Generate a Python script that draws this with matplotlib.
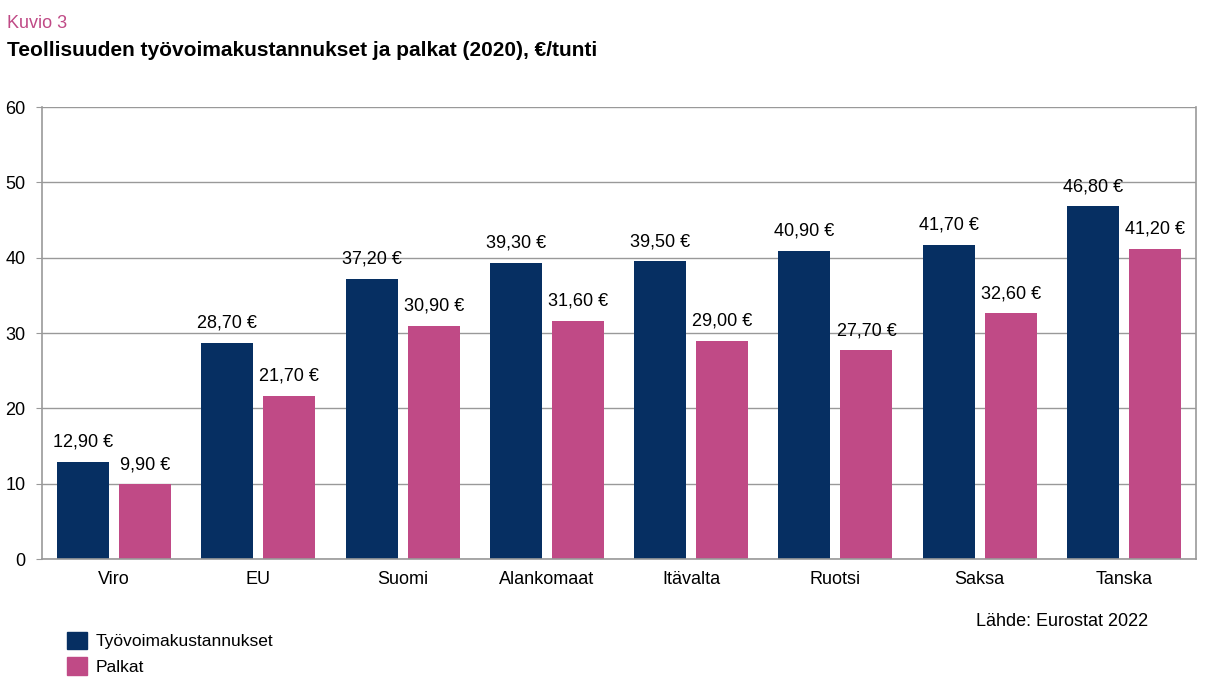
import numpy as np
import matplotlib.pyplot as plt
from matplotlib.patches import Patch

plt.rcParams['font.family'] = ['Liberation Sans', 'DejaVu Sans']

maat = ['Viro', 'EU', 'Suomi', 'Alankomaat', 'Itävalta', 'Ruotsi', 'Saksa', 'Tanska']
kustannukset = [12.9, 28.7, 37.2, 39.3, 39.5, 40.9, 41.7, 46.8]
palkat = [9.9, 21.7, 30.9, 31.6, 29.0, 27.7, 32.6, 41.2]
y_ticks = [0, 10, 20, 30, 40, 50, 60]

sininen = '#062f62'
pinkki = '#c04a86'

fig = plt.figure(figsize=(12.13, 6.91), dpi=100)
ax = fig.add_axes([42 / 1213, 1 - 559 / 691, 1154 / 1213, 452 / 691])

x = np.arange(len(maat))
w = 0.36
off = 0.215
b1 = ax.bar(x - off, kustannukset, w, color=sininen)
b2 = ax.bar(x + off, palkat, w, color=pinkki)

def fmt(v):
    return f'{v:.2f}'.replace('.', ',') + ' €'

for bars, vals in ((b1, kustannukset), (b2, palkat)):
    for r, v in zip(bars, vals):
        ax.text(r.get_x() + r.get_width() / 2, v + 1.5, fmt(v),
                ha='center', va='bottom', fontsize=13)

ax.set_xlim(-0.5, len(maat) - 0.5)
ax.set_ylim(0, 60)
ax.set_yticks(y_ticks)
ax.set_xticks(x)
ax.set_xticklabels(maat, fontsize=13)
ax.tick_params(axis='y', labelsize=13, length=4, color='#999999', pad=8)
ax.tick_params(axis='x', length=0, pad=9)
ax.yaxis.grid(True, color='#999999', linewidth=1)
ax.set_axisbelow(True)
for s in ['left', 'right', 'bottom']:
    ax.spines[s].set_color('#999999')
    ax.spines[s].set_linewidth(1.2)
ax.spines['top'].set_visible(False)

fig.text(7 / 1213, 1 - 24 / 691, 'Kuvio 3', color=pinkki, fontsize=13, va='center', ha='left')
fig.text(7 / 1213, 1 - 51 / 691, 'Teollisuuden työvoimakustannukset ja palkat (2020), €/tunti',
         fontsize=15, fontweight='bold', va='center', ha='left')
fig.text(1148 / 1213, 1 - 621 / 691, 'Lähde: Eurostat 2022', fontsize=13, ha='right', va='center')

handles = [Patch(color=sininen, label='Työvoimakustannukset'),
           Patch(color=pinkki, label='Palkat')]
fig.legend(handles=handles, loc='upper left', bbox_to_anchor=(67 / 1213, 1 - 632 / 691),
           frameon=False, fontsize=12.5, handlelength=1.15, handleheight=1.15,
           handletextpad=0.5, labelspacing=0.45, borderaxespad=0, borderpad=0)

fig.savefig('out.png', dpi=100)
